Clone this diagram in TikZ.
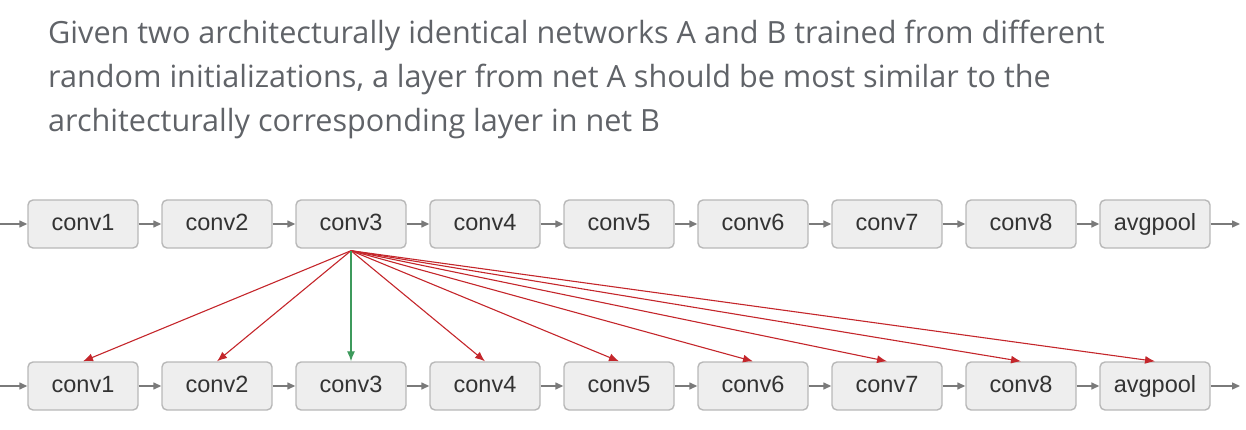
\documentclass[tikz,border=0pt]{standalone}
\usepackage{fontspec}
\setmainfont{Liberation Sans}
\newfontfamily\headfont{Open Sans}
\usetikzlibrary{arrows.meta}

\definecolor{boxfill}{HTML}{EEEEEE}
\definecolor{boxline}{HTML}{B8B8B8}
\definecolor{flowgray}{HTML}{7A7A7A}
\definecolor{headgray}{HTML}{606368}
\definecolor{matchred}{HTML}{C4262B}
\definecolor{samegreen}{HTML}{3D9A5C}

\begin{document}
\begin{tikzpicture}[x=1pt,y=1pt,
    layer/.style={draw=boxline,fill=boxfill,line width=1.4pt,rounded corners=5pt,
      minimum width=110pt,minimum height=48pt,inner sep=0pt,
      text height=17pt,text depth=5pt,
      font=\fontsize{23.5}{26}\selectfont,text=black!80},
    flow/.style={draw=flowgray,line width=1.4pt,-{Triangle[length=8pt,width=7pt]}},
    match/.style={draw=matchred,line width=1.1pt,-{Latex[length=10pt,width=8pt]}},
    same/.style={draw=samegreen,line width=1.1pt,-{Latex[length=10pt,width=8pt]}},
    head/.style={anchor=base west,inner sep=0pt,text=headgray,
      font=\headfont\fontsize{30.6}{34}\selectfont}]
  \useasboundingbox (0,0) rectangle (1246,-430);
  % statement
  \node[head] (h1) at (48,-44) {Given two architecturally identical networks A and B trained from different};
  \node[head] (h2) at (48,-88) {random initializations, a layer from net A should be most similar to the};
  \node[head] (h3) at (48,-132) {architecturally corresponding layer in net B};
  % net A (top) and net B (bottom)
  \foreach \n [count=\i] in {conv1,conv2,conv3,conv4,conv5,conv6,conv7,conv8,avgpool} {
    \node[layer] (a\i) at (83+134*\i-134,-224) {\n};
    \node[layer] (b\i) at (83+134*\i-134,-386) {\n};
  }
  \coordinate (ain) at (0,-224); \coordinate (aout) at (1240,-224);
  \coordinate (bin) at (0,-386); \coordinate (bout) at (1240,-386);
  \draw[flow] (ain) -- (a1); \draw[flow] (a9) -- (aout);
  \draw[flow] (bin) -- (b1); \draw[flow] (b9) -- (bout);
  \foreach \i [evaluate=\i as \j using int(\i+1)] in {1,...,8} {
    \draw[flow] (a\i) -- (a\j); \draw[flow] (b\i) -- (b\j);
  }
  % conv3 of net A against every layer of net B
  \foreach \i in {1,2,4,5,6,7,8,9} \draw[match] ([yshift=-2pt]a3.south) -- (b\i.north);
  \draw[same] ([yshift=-2pt]a3.south) -- (b3.north);
\end{tikzpicture}
\end{document}
